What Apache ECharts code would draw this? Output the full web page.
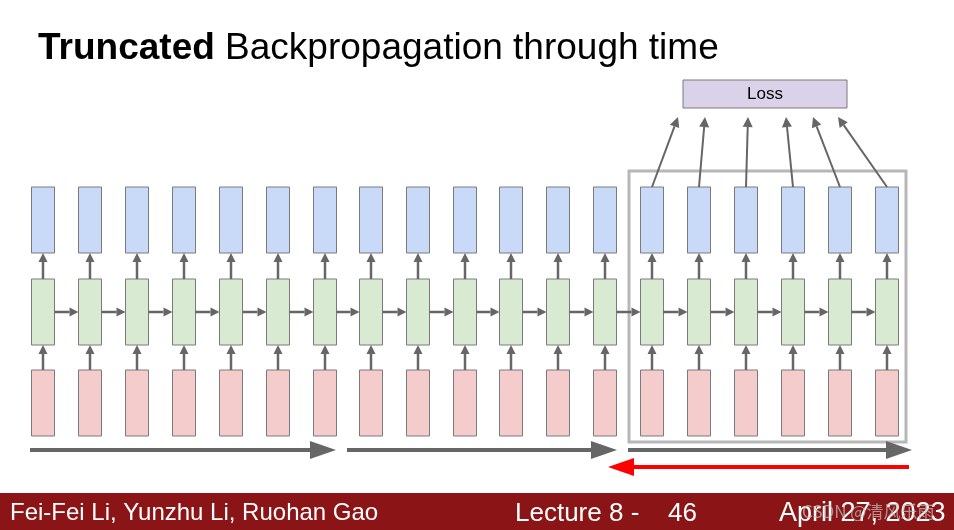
<!DOCTYPE html>
<html>
<head>
<meta charset="utf-8">
<script src="https://cdn.jsdelivr.net/npm/echarts@6/dist/echarts.min.js"></script>
<style>html,body{margin:0;padding:0;background:#fff}#main{width:954px;height:530px}</style>
</head>
<body>
<div id="main"></div>
<script>
// column centres of the unrolled RNN (slide pixel units)
var columns = [43, 90, 137, 184, 231, 278, 325, 371, 418, 465, 511, 558, 605, 652, 699, 746, 793, 840, 887];
// outputs feeding into the loss: [fromX, toX]
var lossLinks = [[652, 678], [699, 705], [746, 748], [793, 786], [840, 813], [887, 838]];
// forward passes along the time axis: [startX, endX]
var forwardChunks = [[30, 336], [347, 617], [628, 912]];
var backwardChunk = [909, 608];

var BOX_W = 23;
var GRAY = '#666666';

var chart = echarts.init(document.getElementById('main'));

function arrowShape(api, x1, y1, x2, y2, color, width, head, headW) {
    var p1 = api.coord([x1, y1]), p2 = api.coord([x2, y2]);
    var dx = p2[0] - p1[0], dy = p2[1] - p1[1];
    var len = Math.sqrt(dx * dx + dy * dy);
    var ux = dx / len, uy = dy / len;
    var bx = p2[0] - ux * head, by = p2[1] - uy * head;
    return [{
        type: 'line',
        shape: { x1: p1[0], y1: p1[1], x2: bx, y2: by },
        style: { stroke: color, lineWidth: width }
    }, {
        type: 'polygon',
        shape: { points: [[p2[0], p2[1]], [bx - uy * headW, by + ux * headW], [bx + uy * headW, by - ux * headW]] },
        style: { fill: color }
    }];
}

function box(api, cx, y1, y2, fill) {
    var a = api.coord([cx - BOX_W / 2, y1]), b = api.coord([cx + BOX_W / 2, y2]);
    return {
        type: 'rect',
        shape: { x: a[0], y: a[1], width: b[0] - a[0], height: b[1] - a[1] },
        style: { fill: fill, stroke: '#7a7a7a', lineWidth: 1 }
    };
}

var option = {
    animation: false,
    grid: { left: 0, right: 0, top: 0, bottom: 0 },
    xAxis: { type: 'value', min: 0, max: 954, show: false },
    yAxis: { type: 'value', min: 0, max: 530, inverse: true, show: false },
    series: [
        {
            type: 'custom',
            data: columns.map(function (x, i) { return [x, i]; }),
            renderItem: function (params, api) {
                var cx = api.value(0), i = api.value(1);
                var kids = [
                    box(api, cx, 187, 253, '#c9daf8'),
                    box(api, cx, 279, 345, '#d9ead3'),
                    box(api, cx, 370, 436, '#f4cccc')
                ];
                kids = kids.concat(arrowShape(api, cx, 370, cx, 345, GRAY, 2.5, 9, 4.5));
                kids = kids.concat(arrowShape(api, cx, 279, cx, 253, GRAY, 2.5, 9, 4.5));
                if (i < columns.length - 1) {
                    var nx = columns[i + 1];
                    kids = kids.concat(arrowShape(api, cx + BOX_W / 2, 312, nx - BOX_W / 2, 312, GRAY, 2.5, 9, 4.5));
                }
                return { type: 'group', children: kids };
            }
        },
        {
            type: 'custom',
            data: lossLinks,
            renderItem: function (params, api) {
                return { type: 'group', children: arrowShape(api, api.value(0), 187, api.value(1), 117, GRAY, 2, 10, 5) };
            }
        },
        {
            type: 'custom',
            data: forwardChunks,
            renderItem: function (params, api) {
                return { type: 'group', children: arrowShape(api, api.value(0), 450, api.value(1), 450, GRAY, 4, 26, 9) };
            }
        },
        {
            type: 'custom',
            data: [backwardChunk],
            renderItem: function (params, api) {
                return { type: 'group', children: arrowShape(api, api.value(0), 467, api.value(1), 467, '#ff0000', 4, 26, 9) };
            }
        }
    ],
    graphic: [
        { type: 'rect', z: -1, shape: { x: 629, y: 171, width: 277, height: 271 }, style: { fill: 'none', stroke: '#b7b7b7', lineWidth: 3 } },
        { type: 'rect', shape: { x: 683, y: 80, width: 164, height: 28 }, style: { fill: '#d9d2e9', stroke: '#7a7a7a', lineWidth: 1 } },
        { type: 'text', x: 765, y: 94, style: { text: 'Loss', fill: '#000', font: '17px Arial, "Liberation Sans", sans-serif', align: 'center', verticalAlign: 'middle' } },
        { type: 'text', x: 38, y: 49, style: {
            text: '{b|Truncated} Backpropagation through time',
            font: '37px Arial, "Liberation Sans", sans-serif', fill: '#000', verticalAlign: 'middle',
            rich: { b: { fontWeight: 'bold', fontSize: 37, fontFamily: 'Arial, "Liberation Sans", sans-serif' } }
        } },
        { type: 'rect', shape: { x: 0, y: 493, width: 954, height: 37 }, style: { fill: '#8b1516' } },
        { type: 'text', x: 10, y: 513, style: { text: 'Fei-Fei Li, Yunzhu Li, Ruohan Gao', fill: '#fff', font: '24px Arial, "Liberation Sans", sans-serif', verticalAlign: 'middle' } },
        { type: 'text', x: 515, y: 514, style: { text: 'Lecture 8 -', fill: '#fff', font: '26px Arial, "Liberation Sans", sans-serif', verticalAlign: 'middle' } },
        { type: 'text', x: 668, y: 514, style: { text: '46', fill: '#fff', font: '26px Arial, "Liberation Sans", sans-serif', verticalAlign: 'middle' } },
        { type: 'text', x: 779, y: 514, style: { text: 'April 27, 2023', fill: '#fff', font: '27px Arial, "Liberation Sans", sans-serif', verticalAlign: 'middle' } },
        { type: 'text', x: 802, y: 512, style: { text: 'CSDN @清风乐雨', fill: 'rgba(190,190,190,0.75)', font: '17px "Noto Sans CJK SC", sans-serif', verticalAlign: 'middle' } }
    ]
};
chart.setOption(option);
</script>
</body>
</html>
